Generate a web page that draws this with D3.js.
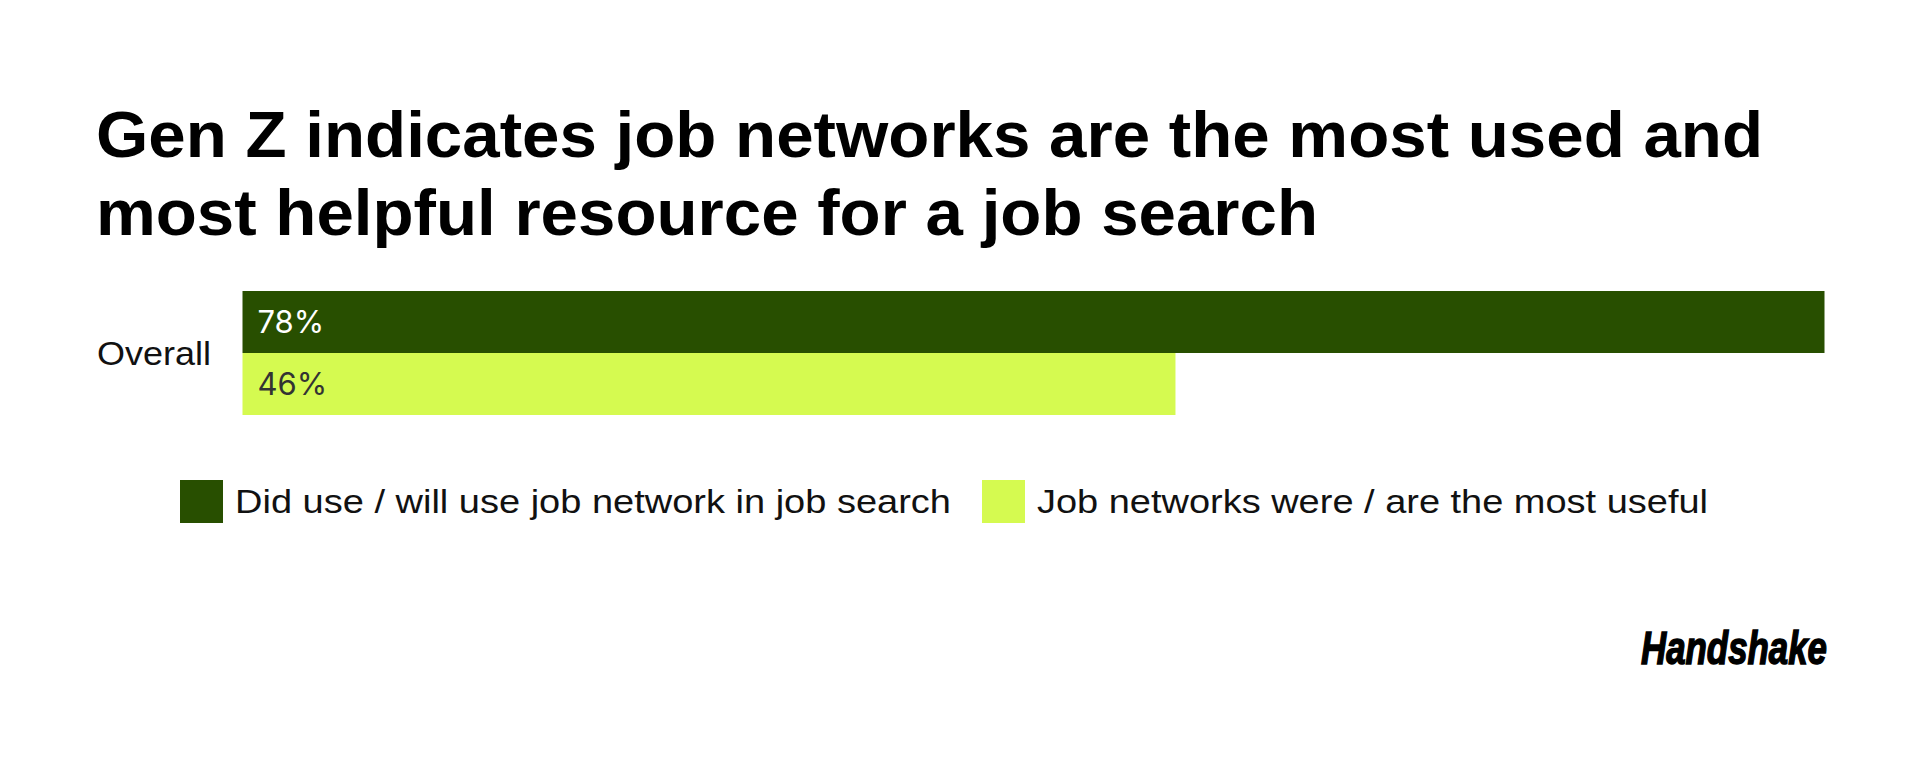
<!DOCTYPE html>
<meta charset="utf-8" />
<style>
  body {
    margin: 0;
    background: #ffffff;
  }
  .title {
    font-family: "Liberation Sans", Arial, sans-serif;
    font-weight: bold;
    fill: #000;
  }
  .cat-label,
  .legend-text {
    font-family: "Liberation Sans", Arial, sans-serif;
    fill: #111;
  }
  .value-label {
    font-family: Inter, "Open Sans", sans-serif;
  }
</style>
<body>
  <div class="container"></div>

  <script src="https://d3js.org/d3.v7.min.js"></script>
  <script>
    // data
    var titleLines = [
      "Gen Z indicates job networks are the most used and",
      "most helpful resource for a job search",
    ];
    var categories = ["Overall"];
    var seriesNames = [
      "Did use / will use job network in job search",
      "Job networks were / are the most useful",
    ];
    var usedValues = [78];
    var usefulValues = [46];
    var logoText = "Handshake";

    var colors = ["#284f00", "#d5fa50"];
    var labelColors = ["#ffffff", "#333333"];

    var width = 1920,
      height = 771;

    var svg = d3
      .select(".container")
      .append("svg")
      .attr("width", width)
      .attr("height", height);

    // title, two lines
    var titleWidths = [1667, 1222];
    svg
      .selectAll(".title")
      .data(titleLines)
      .enter()
      .append("text")
      .attr("class", "title")
      .attr("x", 96)
      .attr("y", function (d, i) {
        return 157 + i * 78;
      })
      .style("font-size", "64px")
      .attr("textLength", function (d, i) {
        return titleWidths[i];
      })
      .attr("lengthAdjust", "spacingAndGlyphs")
      .text(function (d) {
        return d;
      });

    // scales
    var x = d3.scaleLinear().domain([0, 78]).range([242.5, 1824.5]);
    var y0 = d3.scaleBand().domain(categories).range([291, 415]);
    var y1 = d3
      .scaleBand()
      .domain(d3.range(seriesNames.length))
      .range([0, y0.bandwidth()])
      .padding(0);

    var rows = categories.map(function (c, i) {
      return { cat: c, values: [usedValues[i], usefulValues[i]] };
    });

    var groups = svg
      .selectAll(".row")
      .data(rows)
      .enter()
      .append("g")
      .attr("class", "row")
      .attr("transform", function (d) {
        return "translate(0," + y0(d.cat) + ")";
      });

    groups
      .selectAll("rect")
      .data(function (d) {
        return d.values;
      })
      .enter()
      .append("rect")
      .attr("x", x(0))
      .attr("y", function (d, i) {
        return y1(i);
      })
      .attr("width", function (d) {
        return x(d) - x(0);
      })
      .attr("height", y1.bandwidth())
      .attr("fill", function (d, i) {
        return colors[i];
      });

    groups
      .selectAll(".value-label")
      .data(function (d) {
        return d.values;
      })
      .enter()
      .append("text")
      .attr("class", "value-label")
      .attr("x", x(0) + 15)
      .attr("y", function (d, i) {
        return y1(i) + y1.bandwidth() / 2;
      })
      .attr("dy", "0.36em")
      .style("font-size", "31px")
      .attr("fill", function (d, i) {
        return labelColors[i];
      })
      .text(function (d) {
        return d + "%";
      });

    groups
      .append("text")
      .attr("class", "cat-label")
      .attr("x", 211)
      .attr("y", y0.bandwidth() / 2)
      .attr("dy", "0.36em")
      .attr("text-anchor", "end")
      .style("font-size", "34px")
      .attr("textLength", 114)
      .attr("lengthAdjust", "spacingAndGlyphs")
      .text(function (d) {
        return d.cat;
      });

    // legend
    var legendX = [180, 982];
    var legendTextW = [716, 671];
    var legend = svg
      .selectAll(".legend")
      .data(seriesNames)
      .enter()
      .append("g")
      .attr("class", "legend")
      .attr("transform", function (d, i) {
        return "translate(" + legendX[i] + ",480)";
      });

    legend
      .append("rect")
      .attr("width", 43)
      .attr("height", 43)
      .attr("fill", function (d, i) {
        return colors[i];
      });

    legend
      .append("text")
      .attr("class", "legend-text")
      .attr("x", 55)
      .attr("y", 21.5)
      .attr("dy", "0.36em")
      .style("font-size", "33px")
      .attr("textLength", function (d, i) {
        return legendTextW[i];
      })
      .attr("lengthAdjust", "spacingAndGlyphs")
      .text(function (d) {
        return d;
      });

    // logo
    svg
      .append("text")
      .attr("x", 1641)
      .attr("y", 664)
      .style("font-family", "'Liberation Sans Narrow', 'Liberation Sans', sans-serif")
      .style("font-weight", "bold")
      .style("font-style", "italic")
      .style("font-size", "46px")
      .attr("textLength", 186)
      .attr("lengthAdjust", "spacingAndGlyphs")
      .attr("fill", "#000")
      .attr("stroke", "#000")
      .attr("stroke-width", 1.5)
      .text(logoText);
  </script>
</body>
